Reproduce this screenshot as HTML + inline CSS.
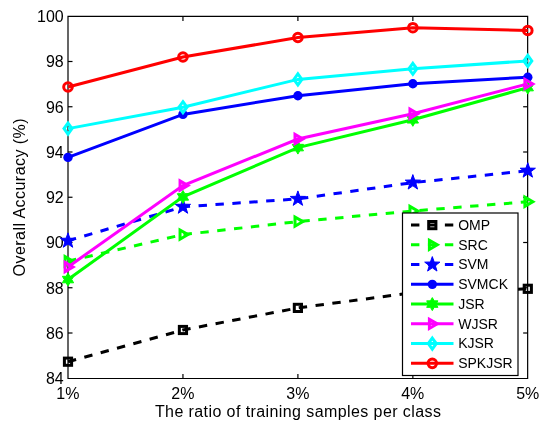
<!DOCTYPE html>
<html><head><meta charset="utf-8"><title>Overall Accuracy</title>
<style>html,body{margin:0;padding:0;background:#fff;}svg{display:block;}</style>
</head><body>
<svg width="550" height="430" viewBox="0 0 550 430">
<rect width="550" height="430" fill="#fff"/>
<path d="M68 16.45H527.65V378.5H68Z" fill="none" stroke="#000" stroke-width="1.2" stroke-linejoin="miter"/>
<line x1="182.95" y1="378.5" x2="182.95" y2="374" stroke="#000" stroke-width="1.2"/>
<line x1="182.95" y1="16.45" x2="182.95" y2="20.95" stroke="#000" stroke-width="1.2"/>
<line x1="297.9" y1="378.5" x2="297.9" y2="374" stroke="#000" stroke-width="1.2"/>
<line x1="297.9" y1="16.45" x2="297.9" y2="20.95" stroke="#000" stroke-width="1.2"/>
<line x1="412.85" y1="378.5" x2="412.85" y2="374" stroke="#000" stroke-width="1.2"/>
<line x1="412.85" y1="16.45" x2="412.85" y2="20.95" stroke="#000" stroke-width="1.2"/>
<line x1="68" y1="61.5" x2="72.5" y2="61.5" stroke="#000" stroke-width="1.2"/>
<line x1="527.65" y1="61.5" x2="523.15" y2="61.5" stroke="#000" stroke-width="1.2"/>
<line x1="68" y1="106.75" x2="72.5" y2="106.75" stroke="#000" stroke-width="1.2"/>
<line x1="527.65" y1="106.75" x2="523.15" y2="106.75" stroke="#000" stroke-width="1.2"/>
<line x1="68" y1="152" x2="72.5" y2="152" stroke="#000" stroke-width="1.2"/>
<line x1="527.65" y1="152" x2="523.15" y2="152" stroke="#000" stroke-width="1.2"/>
<line x1="68" y1="197.25" x2="72.5" y2="197.25" stroke="#000" stroke-width="1.2"/>
<line x1="527.65" y1="197.25" x2="523.15" y2="197.25" stroke="#000" stroke-width="1.2"/>
<line x1="68" y1="242.5" x2="72.5" y2="242.5" stroke="#000" stroke-width="1.2"/>
<line x1="527.65" y1="242.5" x2="523.15" y2="242.5" stroke="#000" stroke-width="1.2"/>
<line x1="68" y1="287.75" x2="72.5" y2="287.75" stroke="#000" stroke-width="1.2"/>
<line x1="527.65" y1="287.75" x2="523.15" y2="287.75" stroke="#000" stroke-width="1.2"/>
<line x1="68" y1="333" x2="72.5" y2="333" stroke="#000" stroke-width="1.2"/>
<line x1="527.65" y1="333" x2="523.15" y2="333" stroke="#000" stroke-width="1.2"/>
<g font-family="'Liberation Sans', Arial, sans-serif" font-size="16" fill="#000">
<text transform="translate(63.7,22.15) scale(1.019,1)" font-size="15.7" text-anchor="end">100</text>
<text transform="translate(63.7,67.4) scale(1.019,1)" font-size="15.7" text-anchor="end">98</text>
<text transform="translate(63.7,112.65) scale(1.019,1)" font-size="15.7" text-anchor="end">96</text>
<text transform="translate(63.7,157.9) scale(1.019,1)" font-size="15.7" text-anchor="end">94</text>
<text transform="translate(63.7,203.15) scale(1.019,1)" font-size="15.7" text-anchor="end">92</text>
<text transform="translate(63.7,248.4) scale(1.019,1)" font-size="15.7" text-anchor="end">90</text>
<text transform="translate(63.7,293.65) scale(1.019,1)" font-size="15.7" text-anchor="end">88</text>
<text transform="translate(63.7,338.9) scale(1.019,1)" font-size="15.7" text-anchor="end">86</text>
<text transform="translate(63.7,384.15) scale(1.019,1)" font-size="15.7" text-anchor="end">84</text>
<text transform="translate(67.9,398.9) scale(1.019,1)" font-size="15.7" text-anchor="middle">1%</text>
<text transform="translate(182.85,398.9) scale(1.019,1)" font-size="15.7" text-anchor="middle">2%</text>
<text transform="translate(297.8,398.9) scale(1.019,1)" font-size="15.7" text-anchor="middle">3%</text>
<text transform="translate(412.75,398.9) scale(1.019,1)" font-size="15.7" text-anchor="middle">4%</text>
<text transform="translate(527.7,398.9) scale(1.019,1)" font-size="15.7" text-anchor="middle">5%</text>
<text x="297.9" y="416.6" text-anchor="middle" textLength="286" lengthAdjust="spacing">The ratio of training samples per class</text>
<text transform="translate(25.1,197.4) rotate(-90)" text-anchor="middle" textLength="158" lengthAdjust="spacing">Overall Accuracy (%)</text>
</g>
<polyline points="68,361.7 182.95,330 297.9,307.9 412.85,292.7 527.8,288.8" fill="none" stroke="#000000" stroke-width="3.0" stroke-dasharray="8.4 8.54"/>
<rect x="64.4" y="358.1" width="7.2" height="7.2" fill="none" stroke="#000000" stroke-width="3"/>
<rect x="179.35" y="326.4" width="7.2" height="7.2" fill="none" stroke="#000000" stroke-width="3"/>
<rect x="294.3" y="304.3" width="7.2" height="7.2" fill="none" stroke="#000000" stroke-width="3"/>
<rect x="409.25" y="289.1" width="7.2" height="7.2" fill="none" stroke="#000000" stroke-width="3"/>
<rect x="524.2" y="285.2" width="7.2" height="7.2" fill="none" stroke="#000000" stroke-width="3"/>
<polyline points="68,261.2 182.95,234.6 297.9,221.6 412.85,211 527.8,201.7" fill="none" stroke="#00ff00" stroke-width="3.0" stroke-dasharray="8.4 8.54"/>
<polygon points="65.1,256.6 65.1,265.8 73,261.2" fill="none" stroke="#00ff00" stroke-width="3" stroke-miterlimit="10"/>
<polygon points="180.05,230 180.05,239.2 187.95,234.6" fill="none" stroke="#00ff00" stroke-width="3" stroke-miterlimit="10"/>
<polygon points="295,217 295,226.2 302.9,221.6" fill="none" stroke="#00ff00" stroke-width="3" stroke-miterlimit="10"/>
<polygon points="409.95,206.4 409.95,215.6 417.85,211" fill="none" stroke="#00ff00" stroke-width="3" stroke-miterlimit="10"/>
<polygon points="524.9,197.1 524.9,206.3 532.8,201.7" fill="none" stroke="#00ff00" stroke-width="3" stroke-miterlimit="10"/>
<polyline points="68,240.8 182.95,206.8 297.9,198.9 412.85,182.6 527.8,170.7" fill="none" stroke="#0000ff" stroke-width="3.0" stroke-dasharray="8.4 8.54"/>
<polygon points="68,232.8 69.88,238.21 75.61,238.33 71.04,241.79 72.7,247.27 68,244 63.3,247.27 64.96,241.79 60.39,238.33 66.12,238.21" fill="#0000ff" stroke="#0000ff" stroke-width="1"/>
<polygon points="182.95,198.8 184.83,204.21 190.56,204.33 185.99,207.79 187.65,213.27 182.95,210 178.25,213.27 179.91,207.79 175.34,204.33 181.07,204.21" fill="#0000ff" stroke="#0000ff" stroke-width="1"/>
<polygon points="297.9,190.9 299.78,196.31 305.51,196.43 300.94,199.89 302.6,205.37 297.9,202.1 293.2,205.37 294.86,199.89 290.29,196.43 296.02,196.31" fill="#0000ff" stroke="#0000ff" stroke-width="1"/>
<polygon points="412.85,174.6 414.73,180.01 420.46,180.13 415.89,183.59 417.55,189.07 412.85,185.8 408.15,189.07 409.81,183.59 405.24,180.13 410.97,180.01" fill="#0000ff" stroke="#0000ff" stroke-width="1"/>
<polygon points="527.8,162.7 529.68,168.11 535.41,168.23 530.84,171.69 532.5,177.17 527.8,173.9 523.1,177.17 524.76,171.69 520.19,168.23 525.92,168.11" fill="#0000ff" stroke="#0000ff" stroke-width="1"/>
<polyline points="68,157.4 182.95,114.4 297.9,95.7 412.85,83.8 527.8,77.2" fill="none" stroke="#0000ff" stroke-width="3.0"/>
<circle cx="68" cy="157.4" r="4.7" fill="#0000ff"/>
<circle cx="182.95" cy="114.4" r="4.7" fill="#0000ff"/>
<circle cx="297.9" cy="95.7" r="4.7" fill="#0000ff"/>
<circle cx="412.85" cy="83.8" r="4.7" fill="#0000ff"/>
<circle cx="527.8" cy="77.2" r="4.7" fill="#0000ff"/>
<polyline points="68,279.55 182.95,196.9 297.9,147.6 412.85,119.8 527.8,87.6" fill="none" stroke="#00ff00" stroke-width="3.0"/>
<polygon points="68,273.05 69.88,276.3 73.63,276.3 71.75,279.55 73.63,282.8 69.88,282.8 68,286.05 66.12,282.8 62.37,282.8 64.25,279.55 62.37,276.3 66.12,276.3" fill="#00ff00" stroke="#00ff00" stroke-width="1"/>
<polygon points="182.95,190.4 184.83,193.65 188.58,193.65 186.7,196.9 188.58,200.15 184.83,200.15 182.95,203.4 181.07,200.15 177.32,200.15 179.2,196.9 177.32,193.65 181.07,193.65" fill="#00ff00" stroke="#00ff00" stroke-width="1"/>
<polygon points="297.9,141.1 299.78,144.35 303.53,144.35 301.65,147.6 303.53,150.85 299.78,150.85 297.9,154.1 296.02,150.85 292.27,150.85 294.15,147.6 292.27,144.35 296.02,144.35" fill="#00ff00" stroke="#00ff00" stroke-width="1"/>
<polygon points="412.85,113.3 414.73,116.55 418.48,116.55 416.6,119.8 418.48,123.05 414.73,123.05 412.85,126.3 410.97,123.05 407.22,123.05 409.1,119.8 407.22,116.55 410.97,116.55" fill="#00ff00" stroke="#00ff00" stroke-width="1"/>
<polygon points="527.8,81.1 529.68,84.35 533.43,84.35 531.55,87.6 533.43,90.85 529.68,90.85 527.8,94.1 525.92,90.85 522.17,90.85 524.05,87.6 522.17,84.35 525.92,84.35" fill="#00ff00" stroke="#00ff00" stroke-width="1"/>
<polyline points="68,267 182.95,185.5 297.9,139 412.85,113.8 527.8,83.9" fill="none" stroke="#ff00ff" stroke-width="3.0"/>
<polygon points="65.1,262.4 65.1,271.6 73,267" fill="none" stroke="#ff00ff" stroke-width="3" stroke-miterlimit="10"/>
<polygon points="180.05,180.9 180.05,190.1 187.95,185.5" fill="none" stroke="#ff00ff" stroke-width="3" stroke-miterlimit="10"/>
<polygon points="295,134.4 295,143.6 302.9,139" fill="none" stroke="#ff00ff" stroke-width="3" stroke-miterlimit="10"/>
<polygon points="409.95,109.2 409.95,118.4 417.85,113.8" fill="none" stroke="#ff00ff" stroke-width="3" stroke-miterlimit="10"/>
<polygon points="524.9,79.3 524.9,88.5 532.8,83.9" fill="none" stroke="#ff00ff" stroke-width="3" stroke-miterlimit="10"/>
<polyline points="68,128.6 182.95,107.2 297.9,79.4 412.85,68.8 527.8,60.9" fill="none" stroke="#00ffff" stroke-width="3.0"/>
<polygon points="68,123.1 72,128.6 68,134.1 64,128.6" fill="none" stroke="#00ffff" stroke-width="3" stroke-miterlimit="10"/>
<polygon points="182.95,101.7 186.95,107.2 182.95,112.7 178.95,107.2" fill="none" stroke="#00ffff" stroke-width="3" stroke-miterlimit="10"/>
<polygon points="297.9,73.9 301.9,79.4 297.9,84.9 293.9,79.4" fill="none" stroke="#00ffff" stroke-width="3" stroke-miterlimit="10"/>
<polygon points="412.85,63.3 416.85,68.8 412.85,74.3 408.85,68.8" fill="none" stroke="#00ffff" stroke-width="3" stroke-miterlimit="10"/>
<polygon points="527.8,55.4 531.8,60.9 527.8,66.4 523.8,60.9" fill="none" stroke="#00ffff" stroke-width="3" stroke-miterlimit="10"/>
<polyline points="68,87 182.95,57 297.9,37.5 412.85,27.7 527.8,30.5" fill="none" stroke="#ff0000" stroke-width="3.0"/>
<circle cx="68" cy="87" r="4.3" fill="none" stroke="#ff0000" stroke-width="3"/>
<circle cx="182.95" cy="57" r="4.3" fill="none" stroke="#ff0000" stroke-width="3"/>
<circle cx="297.9" cy="37.5" r="4.3" fill="none" stroke="#ff0000" stroke-width="3"/>
<circle cx="412.85" cy="27.7" r="4.3" fill="none" stroke="#ff0000" stroke-width="3"/>
<circle cx="527.8" cy="30.5" r="4.3" fill="none" stroke="#ff0000" stroke-width="3"/>
<rect x="402.5" y="213" width="115.5" height="162.5" fill="#fff" stroke="#000" stroke-width="1.2"/>
<line x1="411" y1="225.1" x2="453.5" y2="225.1" stroke="#000000" stroke-width="3.0" stroke-dasharray="8.4 8.54"/>
<rect x="428.7" y="221.5" width="7.2" height="7.2" fill="none" stroke="#000000" stroke-width="3"/>
<text x="458.2" y="229.9" font-family="'Liberation Sans', Arial, sans-serif" font-size="14" fill="#000">OMP</text>
<line x1="411" y1="244.85" x2="453.5" y2="244.85" stroke="#00ff00" stroke-width="3.0" stroke-dasharray="8.4 8.54"/>
<polygon points="429.4,240.25 429.4,249.45 437.3,244.85" fill="none" stroke="#00ff00" stroke-width="3" stroke-miterlimit="10"/>
<text x="458.2" y="249.65" font-family="'Liberation Sans', Arial, sans-serif" font-size="14" fill="#000">SRC</text>
<line x1="411" y1="264.6" x2="453.5" y2="264.6" stroke="#0000ff" stroke-width="3.0" stroke-dasharray="8.4 8.54"/>
<polygon points="432.3,256.6 434.18,262.01 439.91,262.13 435.34,265.59 437,271.07 432.3,267.8 427.6,271.07 429.26,265.59 424.69,262.13 430.42,262.01" fill="#0000ff" stroke="#0000ff" stroke-width="1"/>
<text x="458.2" y="269.4" font-family="'Liberation Sans', Arial, sans-serif" font-size="14" fill="#000">SVM</text>
<line x1="411" y1="284.35" x2="453.5" y2="284.35" stroke="#0000ff" stroke-width="3.0"/>
<circle cx="432.3" cy="284.35" r="4.7" fill="#0000ff"/>
<text x="458.2" y="289.15" font-family="'Liberation Sans', Arial, sans-serif" font-size="14" fill="#000">SVMCK</text>
<line x1="411" y1="304.1" x2="453.5" y2="304.1" stroke="#00ff00" stroke-width="3.0"/>
<polygon points="432.3,297.6 434.18,300.85 437.93,300.85 436.05,304.1 437.93,307.35 434.18,307.35 432.3,310.6 430.42,307.35 426.67,307.35 428.55,304.1 426.67,300.85 430.42,300.85" fill="#00ff00" stroke="#00ff00" stroke-width="1"/>
<text x="458.2" y="308.9" font-family="'Liberation Sans', Arial, sans-serif" font-size="14" fill="#000">JSR</text>
<line x1="411" y1="323.85" x2="453.5" y2="323.85" stroke="#ff00ff" stroke-width="3.0"/>
<polygon points="429.4,319.25 429.4,328.45 437.3,323.85" fill="none" stroke="#ff00ff" stroke-width="3" stroke-miterlimit="10"/>
<text x="458.2" y="328.65" font-family="'Liberation Sans', Arial, sans-serif" font-size="14" fill="#000">WJSR</text>
<line x1="411" y1="343.6" x2="453.5" y2="343.6" stroke="#00ffff" stroke-width="3.0"/>
<polygon points="432.3,338.1 436.3,343.6 432.3,349.1 428.3,343.6" fill="none" stroke="#00ffff" stroke-width="3" stroke-miterlimit="10"/>
<text x="458.2" y="348.4" font-family="'Liberation Sans', Arial, sans-serif" font-size="14" fill="#000">KJSR</text>
<line x1="411" y1="363.35" x2="453.5" y2="363.35" stroke="#ff0000" stroke-width="3.0"/>
<circle cx="432.3" cy="363.35" r="4.3" fill="none" stroke="#ff0000" stroke-width="3"/>
<text x="458.2" y="368.15" font-family="'Liberation Sans', Arial, sans-serif" font-size="14" fill="#000">SPKJSR</text>
</svg>
</body></html>
